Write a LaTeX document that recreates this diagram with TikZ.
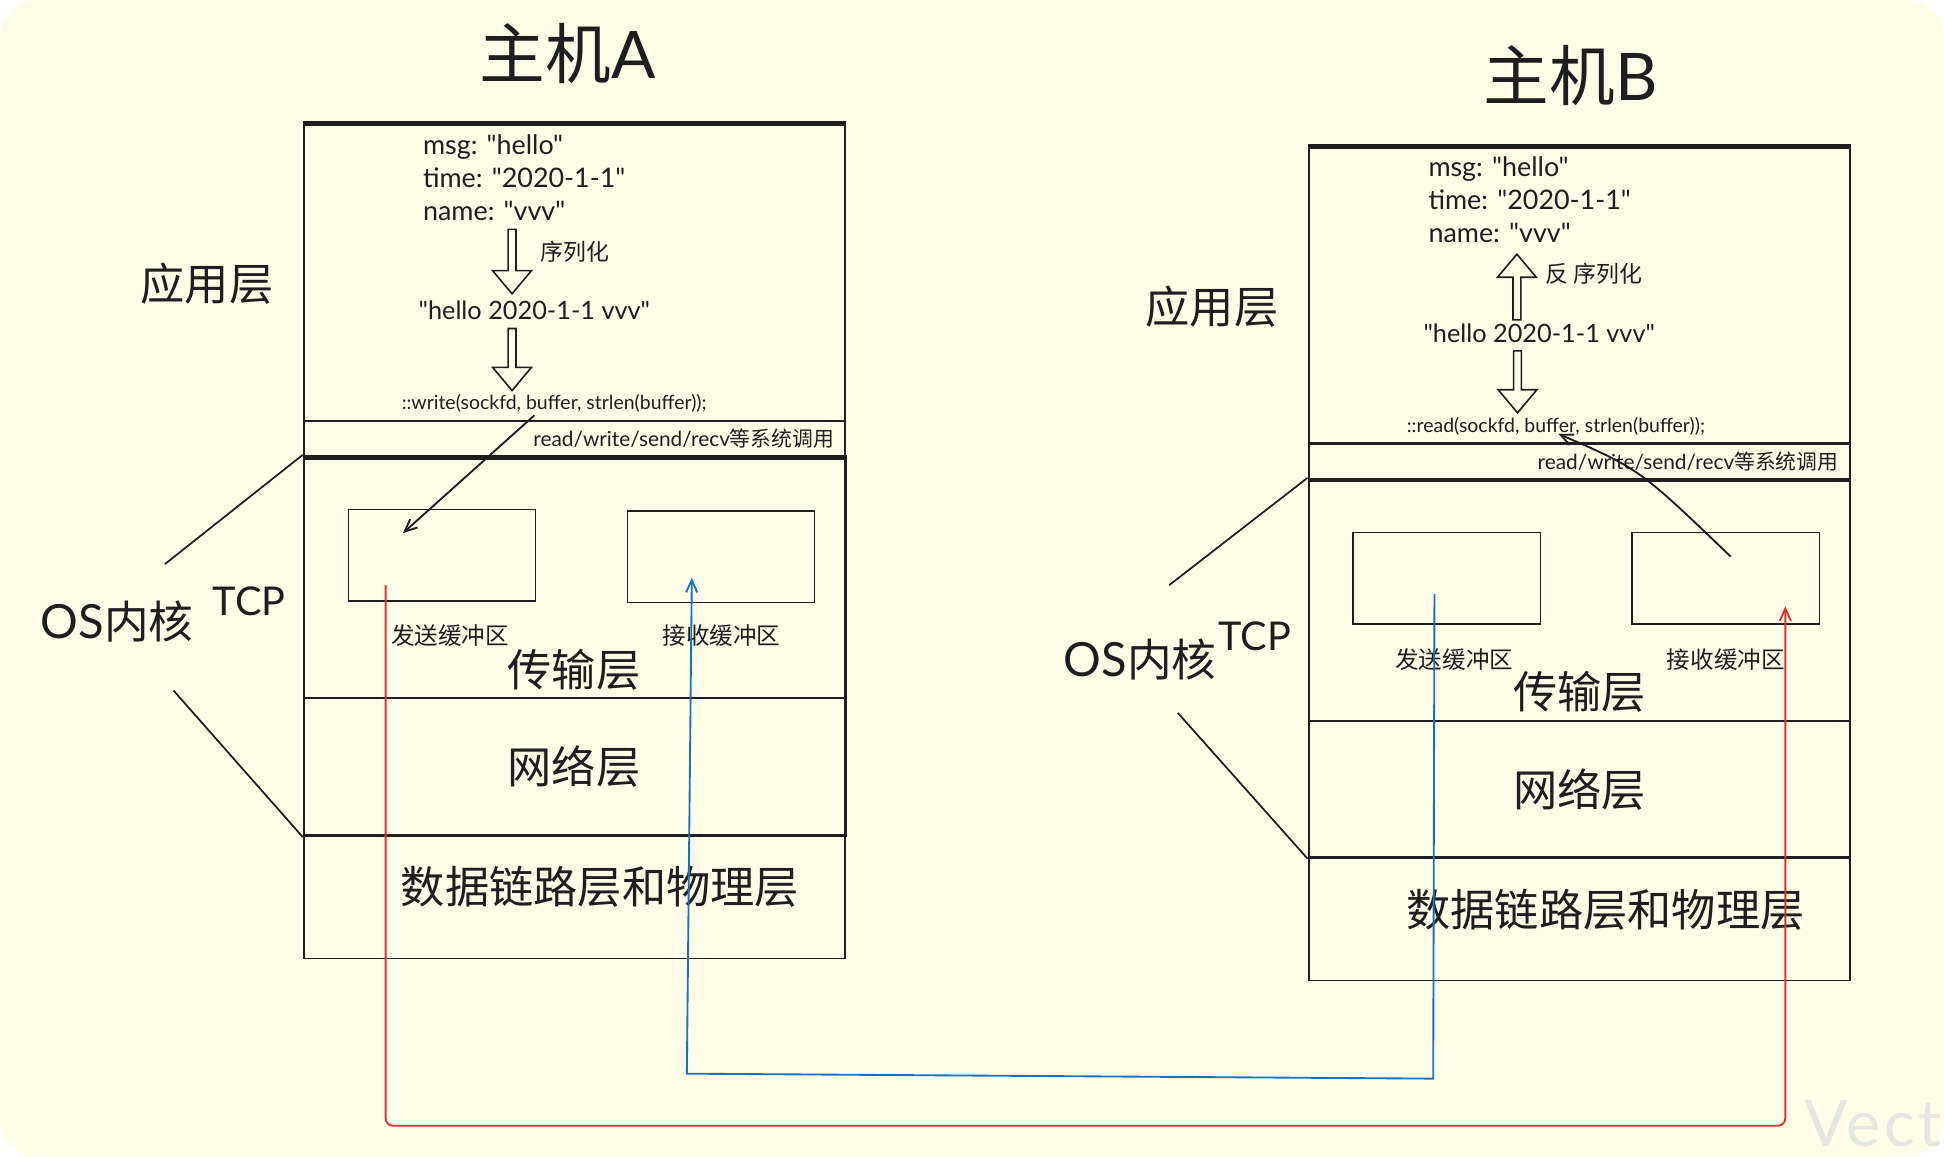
\documentclass[tikz,border=0pt]{standalone}
\usepackage{fontspec}
\usetikzlibrary{arrows.meta,shapes.arrows}
\setmainfont{Lato}[Ligatures=TeXOff]
\newfontfamily\cjk{Noto Sans CJK SC}
\definecolor{paper}{HTML}{FFFDE8}
\definecolor{ink}{HTML}{1E1E1E}
\definecolor{sendred}{HTML}{E03131}
\definecolor{sendblue}{HTML}{1971C2}
\definecolor{markgrey}{HTML}{E6E6E0}
\tikzset{
	layer/.style={draw=ink, line width=#1, inner sep=0pt, minimum width=436.5pt},
	buffer/.style={draw=ink, line width=1.3pt, inner sep=0pt, minimum width=151pt, minimum height=74pt},
	fatarrow/.style={draw=ink, line width=1.3pt, single arrow, anchor=tip, inner sep=2.5pt, minimum width=30pt, minimum height=#1, single arrow head extend=12.5pt, single arrow tip angle=80},
	fatdown/.style={fatarrow=#1, rotate=-90},
	fatup/.style={fatarrow=#1, rotate=90},
	field/.style={anchor=base west, inner sep=0pt, font=\fontsize{21.7}{24}\selectfont},
	flatline/.style={anchor=base, inner sep=0pt, font=\fontsize{20.4}{24}\selectfont},
	call/.style={anchor=base, inner sep=0pt, font=\fontsize{15.7}{18}\selectfont},
	sysline/.style={anchor=east, inner sep=0pt, font=\fontsize{16.8}{20}\selectfont},
	hosttitle/.style={inner sep=0pt, font=\fontsize{53}{58}\selectfont},
	biglabel/.style={inner sep=0pt, font=\cjk\fontsize{35.7}{40}\selectfont},
	oslabel/.style={inner sep=0pt, font=\fontsize{38}{40}\selectfont},
	smalllabel/.style={inner sep=0pt, font=\cjk\fontsize{19}{22}\selectfont},
	seriallabel/.style={inner sep=0pt, font=\cjk\fontsize{18.5}{22}\selectfont},
	wire/.style={-{Straight Barb[length=10pt,width=9pt]}, line width=1.5pt},
	plainline/.style={ink, line width=1.4pt},
}
\begin{document}
\begin{tikzpicture}[x=1pt, y=-1pt, text=ink]
	\useasboundingbox (0,0) rectangle (1568,933);
	\fill[paper, rounded corners=30pt] (0,0) rectangle (1568,933);

	% host A
	\node[hosttitle] (titleA) at (458,43) {{\cjk 主机}A};
	\node[layer=2pt, minimum height=239pt] (appA) at (463.5,220) {};
	\node[layer=1.3pt, minimum height=29pt] (sysA) at (463.5,354) {};
	\node[layer=2.2pt, minimum height=195pt] (tcpA) at (463.5,465.5) {};
	\node[layer=2.2pt, minimum height=111pt] (netA) at (463.5,618.5) {};
	\node[layer=1.3pt, minimum height=99pt] (linkA) at (463.5,723.5) {};
	\draw[ink, line width=3pt] (appA.north west) -- (appA.north east);
	\draw[ink, line width=3pt] (sysA.south west) -- (sysA.south east);
	\node[field] (msgA) at (341,124.5) {msg: "hello"};
	\node[field] (timeA) at (341,151) {time: "2020-1-1"};
	\node[field] (nameA) at (341,178) {name: "vvv"};
	\node[fatdown=52pt] (serA) at (413,238) {};
	\node[seriallabel] (serlabelA) at (463.5,203) {序列化};
	\node[flatline] (flatA) at (431,257.5) {"hello 2020-1-1 vvv"};
	\node[fatdown=50pt] (flatarrowA) at (413,316) {};
	\node[call] (writeA) at (447,330) {::write(sockfd, buffer, strlen(buffer));};
	\node[sysline] (syslabelA) at (673,354) {read/write/send/recv{\cjk 等系统调用}};
	\node[buffer] (sendA) at (356.5,448) {};
	\node[buffer] (recvA) at (581.5,449) {};
	\node[smalllabel] (sendlabelA) at (363,513) {发送缓冲区};
	\node[smalllabel] (recvlabelA) at (582,513) {接收缓冲区};
	\node[biglabel] (tcplabelA) at (463,540) {传输层};
	\node[biglabel] (netlabelA) at (463,618) {网络层};
	\node[biglabel] (linklabelA) at (484,715) {数据链路层和物理层};
	\node[biglabel] (applabelA) at (167,229) {应用层};
	\node[oslabel] (oslabelA) at (94.5,501) {OS{\cjk\fontsize{36}{40}\selectfont 内核}};
	\node[inner sep=0pt, font=\fontsize{32}{34}\selectfont] (tcpnameA) at (201,485) {TCP};
	\coordinate (osupA) at (133,455);
	\coordinate (osdownA) at (140,557);
	\coordinate (writefromA) at (431,335);
	\coordinate (writetoA) at (325,430);
	\draw[plainline] (osupA) -- (tcpA.north west);
	\draw[plainline] (osdownA) -- (netA.south west);
	\draw[ink, wire] (writefromA) -- (writetoA);

	% host B
	\node[hosttitle] (titleB) at (1267,61) {{\cjk 主机}B};
	\node[layer=2pt, minimum height=239pt] (appB) at (1274,238.5) {};
	\node[layer=1.3pt, minimum height=29pt] (sysB) at (1274,372) {};
	\node[layer=2.2pt, minimum height=195pt] (tcpB) at (1274,484) {};
	\node[layer=2.2pt, minimum height=110pt] (netB) at (1274,636.5) {};
	\node[layer=1.3pt, minimum height=99pt] (linkB) at (1274,741.5) {};
	\draw[ink, line width=3pt] (appB.north west) -- (appB.north east);
	\draw[ink, line width=3pt] (sysB.south west) -- (sysB.south east);
	\node[field] (msgB) at (1152,142) {msg: "hello"};
	\node[field] (timeB) at (1152,169) {time: "2020-1-1"};
	\node[field] (nameB) at (1152,196) {name: "vvv"};
	\node[fatup=53pt] (deserB) at (1223.5,204) {};
	\node[seriallabel] (deserlabelB) at (1285.5,221) {反 序列化};
	\node[flatline] (flatB) at (1241.5,276) {"hello 2020-1-1 vvv"};
	\node[fatdown=50pt] (flatarrowB) at (1224,334) {};
	\node[call] (readB) at (1255,348.5) {::read(sockfd, buffer, strlen(buffer));};
	\node[sysline] (syslabelB) at (1483,372) {read/write/send/recv{\cjk 等系统调用}};
	\node[buffer] (sendB) at (1167,466.5) {};
	\node[buffer] (recvB) at (1392,466.5) {};
	\node[smalllabel] (sendlabelB) at (1173,532) {发送缓冲区};
	\node[smalllabel] (recvlabelB) at (1392,532) {接收缓冲区};
	\node[biglabel] (tcplabelB) at (1274,558) {传输层};
	\node[biglabel] (netlabelB) at (1274,637) {网络层};
	\node[biglabel] (linklabelB) at (1295,734) {数据链路层和物理层};
	\node[biglabel] (applabelB) at (977.5,247) {应用层};
	\node[oslabel] (oslabelB) at (919.5,532) {OS{\cjk\fontsize{36}{40}\selectfont 内核}};
	\node[inner sep=0pt, font=\fontsize{32}{34}\selectfont] (tcpnameB) at (1012,513) {TCP};
	\coordinate (osupB) at (943,472);
	\coordinate (osdownB) at (950,575);
	\coordinate (readfromB) at (1396,449);
	\coordinate (readtoB) at (1257,350);
	\draw[plainline] (osupB) -- (tcpB.north west);
	\draw[plainline] (osdownB) -- (netB.south west);
	\draw[ink, wire] (readfromB) .. controls (1322,378) .. (readtoB);

	% between the hosts
	\coordinate (redfrom) at (311,472);
	\coordinate (redleft) at (311,908);
	\coordinate (redright) at (1440,908);
	\coordinate (redto) at (1440,489);
	\coordinate (bluefrom) at (1157,479);
	\coordinate (blueright) at (1156,870);
	\coordinate (blueleft) at (554,866);
	\coordinate (blueto) at (558,466);
	\draw[sendred, wire, rounded corners=6pt] (redfrom) -- (redleft) -- (redright) -- (redto);
	\draw[sendblue, wire] (bluefrom) -- (blueright) -- (blueleft) -- (blueto);

	\node[anchor=east, inner sep=0pt, text=markgrey, font=\fontsize{52}{56}\selectfont\addfontfeature{LetterSpace=5}] (mark) at (1566,906) {Vect};
\end{tikzpicture}
\end{document}
